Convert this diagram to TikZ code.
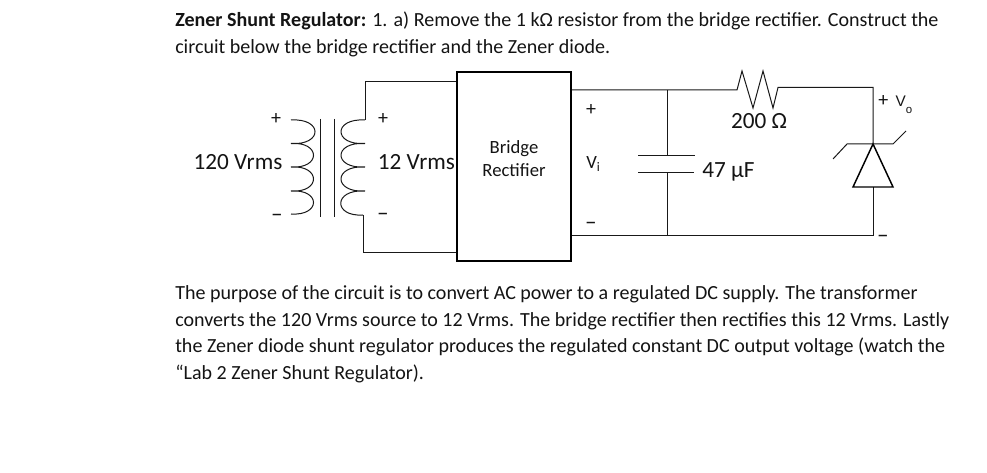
\documentclass[tikz,border=0pt]{standalone}
\usepackage{fontspec}
\setmainfont{Carlito}
\newfontfamily\arialish{Liberation Sans}
\tikzset{
  x=0.75pt,y=-0.75pt,
  wire/.style={draw=black!90,line width=0.75pt},
  para/.style={anchor=base west,inner sep=0pt,font=\fontsize{15.03pt}{18pt}\selectfont,text=black!92},
  lab/.style={anchor=base,inner sep=0pt,font=\fontsize{17.4pt}{20pt}\selectfont,text=black!92},
  small/.style={anchor=base,inner sep=0pt,font=\fontsize{14pt}{16pt}\selectfont,text=black!92},
  sign/.style={anchor=base,inner sep=0pt,font=\fontsize{15pt}{18pt}\selectfont,text=black!92},
  dashsign/.style={anchor=base,inner sep=0pt,font=\fontsize{17.4pt}{20pt}\selectfont,text=black!92},
}
\begin{document}
\begin{tikzpicture}
\useasboundingbox (0,0) rectangle (987,473);
\fill[white] (0,0) rectangle (987,473);
% text
\node[para] (t1) at (175,27) {\textbf{Zener Shunt Regulator:} 1. a) Remove the 1 kΩ resistor from the bridge rectifier. Construct the};
\node[para] (t2) at (175,53.5) {circuit below the bridge rectifier and the Zener diode.};
\node[para] (p1) at (175,300) {The purpose of the circuit is to convert AC power to a regulated DC supply. The transformer};
\node[para] (p2) at (175,326.5) {converts the 120 Vrms source to 12 Vrms. The bridge rectifier then rectifies this 12 Vrms. Lastly};
\node[para] (p3) at (175,353) {the Zener diode shunt regulator produces the regulated constant DC output voltage (watch the};
\node[para] (p4) at (175,379.5) {“Lab 2 Zener Shunt Regulator).};
% box
\node[draw=black,line width=1.5pt,minimum width=85.5pt,minimum height=141.75pt,inner sep=0pt] (rect) at (514,166.5) {};
\node[small] (b1) at (514,154) {Bridge};
\node[small] (b2) at (514,177) {Rectifier};
% named points
\coordinate (ps) at (291,120);
\coordinate (pa) at (291,143.5);
\coordinate (pb) at (291,167);
\coordinate (pc) at (291,191);
\coordinate (pe) at (291,214);
\coordinate (ss) at (365,120);
\coordinate (sa) at (365,143.5);
\coordinate (sb) at (365,167);
\coordinate (sc) at (365,191);
\coordinate (se) at (363,215);
\coordinate (k1a) at (320,119); \coordinate (k1b) at (320,217);
\coordinate (k2a) at (334,119); \coordinate (k2b) at (334,217);
\coordinate (st) at (365,81.5); \coordinate (sl) at (363,253);
\coordinate (bt) at (rect.west |- st); \coordinate (bl) at (rect.west |- sl);
\coordinate (rt) at (rect.east |- 0,90); \coordinate (rb) at (rect.east |- 0,236);
\coordinate (ct) at (667,90); \coordinate (cb) at (667,236);
\coordinate (c1) at (667,156); \coordinate (c2) at (667,173);
\coordinate (c1l) at (638,156); \coordinate (c1r) at (695,156);
\coordinate (c2l) at (638,173); \coordinate (c2r) at (694,173);
\coordinate (r0) at (737,90);
\coordinate (r1) at (742,71); \coordinate (r2) at (753,108); \coordinate (r3) at (763,71);
\coordinate (r4) at (773,108); \coordinate (r5) at (778,87.5);
\coordinate (zt) at (873,87.5); \coordinate (za) at (873,144); \coordinate (zb) at (873,187);
\coordinate (zbl) at (853,187); \coordinate (zbr) at (893,187);
\coordinate (zk1) at (833,159); \coordinate (zk2) at (847,144); \coordinate (zk3) at (893,144); \coordinate (zk4) at (906,131);
\coordinate (ze) at (873,236);
% transformer
\draw[wire] (ps) .. controls +(32,-2) and +(32,2) .. (pa)
  .. controls +(30,-2) and +(30,2) .. (pb)
  .. controls +(30,-2) and +(30,2) .. (pc)
  .. controls +(30,-2) and +(30,2) .. (pe);
\draw[wire] (ss) .. controls +(-32,-2) and +(-32,2) .. (sa)
  .. controls +(-32,-2) and +(-32,2) .. (sb)
  .. controls +(-32,-2) and +(-32,2) .. (sc)
  .. controls +(-32,-2) and +(-30,2) .. (se);
\draw[wire] (k1a) -- (k1b);
\draw[wire] (k2a) -- (k2b);
\draw[wire] (ss) -- (st) -- (bt);
\draw[wire] (se) -- (sl) -- (bl);
% rectifier out
\draw[wire] (rt) -- (r0) -- (r1) -- (r2) -- (r3) -- (r4) -- (r5) -- (zt) -- (za);
\draw[wire] (rb) -- (ze) -- (zb);
\draw[wire] (ct) -- (c1); \draw[wire] (c2) -- (cb);
\draw[wire] (c1l) -- (c1r); \draw[wire] (c2l) -- (c2r);
% zener
\draw[draw=black,line width=1.1pt,line join=miter] (za) -- (zbr) -- (zbl) -- cycle;
\draw[wire] (zk1) -- (zk2) -- (zk3) -- (zk4);
% labels
\node[sign] (lp1) at (276,125) {+};
\node[dashsign] (lm1) at (277,222) {–};
\node[lab] (lv1) at (238,170) {120 Vrms};
\node[sign] (lp2) at (383,125) {+};
\node[dashsign] (lm2) at (383,221) {–};
\node[lab] (lv2) at (416.5,170) {12 Vrms};
\node[sign] (lp3) at (591,116) {+};
\node[dashsign] (lm3) at (591,230) {–};
\node[small] (lvi) at (593.5,169) {V\textsubscript{i}};
\node[lab] (lr) at (759,129) {200 Ω};
\node[lab] (lc) at (728.5,178) {47 µF};
\node[anchor=base west,inner sep=0pt,font=\fontsize{15pt}{18pt}\selectfont,text=black!92] (lvo) at (878,106.5) {+\kern5.5pt{\arialish\fontsize{11.5pt}{12pt}\selectfont V\raisebox{-5.5pt}{\fontsize{8.6pt}{10pt}\selectfont o}}};
\node[dashsign] (lm4) at (883,243) {–};
\end{tikzpicture}
\end{document}
